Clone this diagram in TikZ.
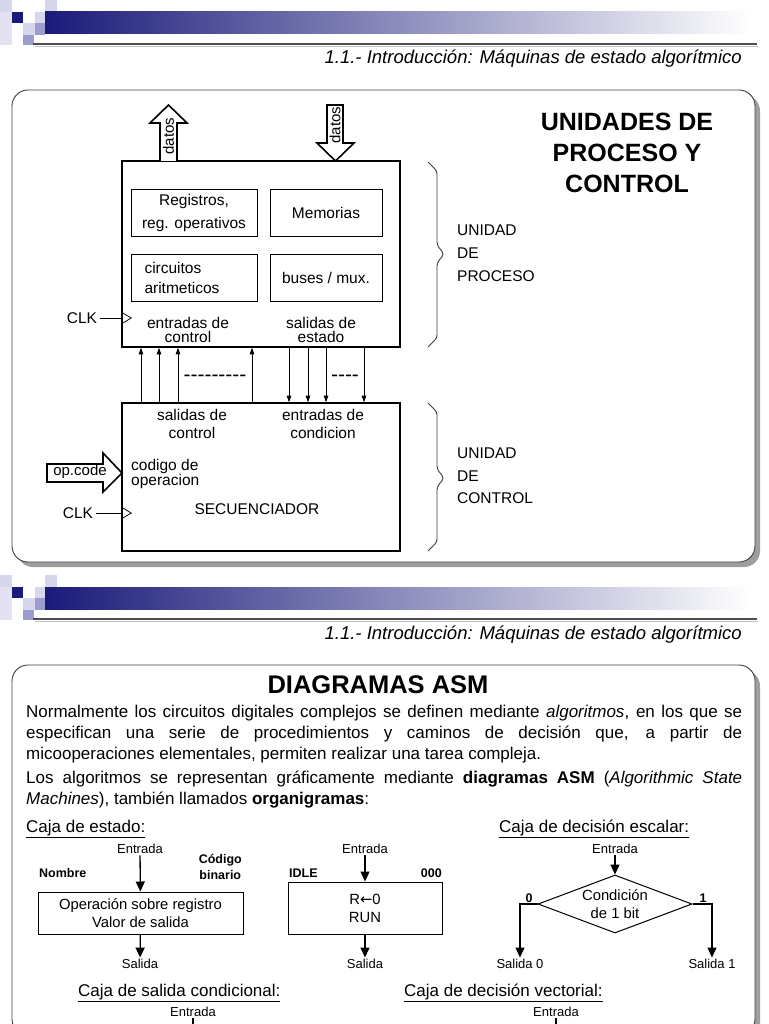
\documentclass[tikz,border=0pt]{standalone}
\usepackage{fontspec}
\setmainfont{Liberation Sans}
\newfontfamily\arrowfont{DejaVu Sans}
\usetikzlibrary{arrows.meta,shapes.geometric}

\newcommand\fsz[2]{\fontsize{#1}{#2}\selectfont}
\newcommand\dashrow[1]{\foreach \i in {1,...,#1}{-\kern0pt}}

\definecolor{navy}{RGB}{26,26,122}
\definecolor{lavlight}{RGB}{214,214,236}
\definecolor{lavmid}{RGB}{156,156,206}
\definecolor{framegray}{RGB}{64,64,64}
\definecolor{shadegray}{RGB}{158,158,158}

\tikzset{
  unit/.style={draw, line width=1.6pt, inner sep=0pt},
  blk/.style={draw, line width=0.9pt, inner sep=0pt, align=center, font=\fsz{15.5}{23}},
  lbl/.style={inner sep=0pt, align=center, font=\fsz{15.5}{18}},
  sig/.style={line width=0.8pt, -{Triangle[length=6.5pt,width=4.5pt]}},
  hollow/.style={draw, line width=1.6pt, fill=white, line join=miter},
  brace/.style={draw, line width=0.9pt, black!75, rounded corners=3pt},
  asm/.style={draw, line width=1pt, inner sep=0pt, align=center, font=\fsz{14.8}{18}},
  small/.style={inner sep=1.5pt, font=\fsz{13}{15}},
  tag/.style={inner sep=0pt, font=\bfseries\fsz{12.5}{16}},
  flow/.style={line width=1.3pt, -{Triangle[length=10pt,width=9pt]}},
  caja/.style={inner sep=0pt, anchor=base west, font=\fsz{17}{20}},
  body/.style={inner sep=0pt, anchor=base west, font=\fsz{17}{21}},
}

\begin{document}
\begin{tikzpicture}[x=1pt,y=-1pt]
    \useasboundingbox (0,0) rectangle (768,1024);
    \clip (0,0) rectangle (768,1024);

    % Slide headers (same on both slides)
    \foreach \oy in {0,575}{
      \begin{scope}[shift={(0,\oy)}]
        \fill[lavlight] (0,0) rectangle (12,12);
        \fill[lavlight!70] (0,12) rectangle (12,45);
        \fill[navy] (12,12) rectangle (23,23);
        \fill[lavlight] (45,0) rectangle (57,12);
        \fill[lavlight] (35,12) rectangle (45,23);
        \fill[lavlight] (23,23) rectangle (35,35);
        \fill[lavmid] (35,23) rectangle (45,35);
        \fill[lavmid] (23,35) rectangle (34,45);
        \shade[left color=navy, right color=white] (45,12) rectangle (752,34);
        \draw[black!25, line width=1.5pt] (35,46.5) -- (758,46.5);
        \draw[black!70, line width=1.2pt] (33,44) -- (757,44);
        \node[anchor=base east, inner sep=0pt, font=\itshape\fsz{18.5}{20}] (hdr\oy) at (742,64)
            {1.1.- Introducción: Máquinas de estado algorítmico};
      \end{scope}
    }

    % ---------------- Slide 1 ----------------
    \fill[shadegray, rounded corners=16pt] (17,95) rectangle (760,567);
    \draw[framegray, fill=white, line width=0.9pt, rounded corners=16pt] (12,90) rectangle (755,562);

    \node[align=center, inner sep=0pt, font=\bfseries\fsz{25}{31}] (title1) at (627,153)
        {UNIDADES DE\\PROCESO Y\\CONTROL};

    % Units
    \node[unit, minimum width=278pt, minimum height=186pt] (proc) at (261,254) {};
    \node[unit, minimum width=278pt, minimum height=148pt] (ctl) at (261,477) {};

    % Blocks of the processing unit
    \node[blk, minimum width=126pt, minimum height=47pt] (regs) at (194,212.5) {Registros,\\reg. operativos};
    \node[blk, minimum width=112pt, minimum height=47pt] (mem) at (326,212.5) {Memorias};
    \node[blk, minimum width=126pt, minimum height=47pt, text width=100pt, align=left,
          font=\fsz{15.5}{20}] (arit) at (194.5,277.5) {circuitos\\aritmeticos};
    \node[blk, minimum width=112pt, minimum height=47pt] (bus) at (326,277.5) {buses / mux.};

    \node[lbl, font=\fsz{15.5}{14}] (ectl) at (188,330) {entradas de\\control};
    \node[lbl, font=\fsz{15.5}{14}] (sest) at (321,330) {salidas de\\estado};

    % Control unit texts
    \node[lbl] (sctl) at (192,424) {salidas de\\control};
    \node[lbl] (econd) at (323,424) {entradas de\\condicion};
    \node[lbl, anchor=west, align=left, font=\fsz{15.5}{15}] (opc) at (131,473.5) {codigo de\\operacion};
    \node[lbl] (seq) at (257,509) {SECUENCIADOR};

    % Data buses
    \draw[hollow] (160,161) -- (160,123) -- (150,123) -- (168.5,105) -- (187,123) -- (177,123) -- (177,161);
    \node[lbl, rotate=90, font=\fsz{15}{18}] (din) at (168.5,136) {datos};
    \draw[hollow] (327,105) -- (327,143) -- (317,143) -- (335.5,161) -- (354,143) -- (343,143) -- (343,105) -- cycle;
    \node[lbl, rotate=90, font=\fsz{15}{18}] (dout) at (335,125) {datos};

    % op.code bus
    \draw[hollow] (47,464) -- (103,464) -- (103,453) -- (122,473) -- (103,492) -- (103,482) -- (47,482) -- cycle;
    \node[lbl, font=\fsz{15}{18}] (opcode) at (80,472) {op.code};

    % Clocks
    \node[lbl, inner sep=3pt] (clkp) at (82,318) {CLK};
    \draw[line width=0.8pt] (clkp.east) -- (clkp.east -| proc.west);
    \draw[line width=0.8pt] (clkp -| proc.west) ++(0,-6) -- ++(10,6) -- ++(-10,6);
    \node[lbl, inner sep=3pt] (clkc) at (78,513) {CLK};
    \draw[line width=0.8pt] (clkc.east) -- (clkc.east -| ctl.west);
    \draw[line width=0.8pt] (clkc -| ctl.west) ++(0,-6) -- ++(10,6) -- ++(-10,6);

    % Control and condition signals
    \foreach \x in {141,159,178,252}
        \draw[sig] (ctl.north -| \x,0) -- (proc.south -| \x,0);
    \foreach \x in {289,308,326,364}
        \draw[sig] (proc.south -| \x,0) -- (ctl.north -| \x,0);
    \node[anchor=base, inner sep=0pt, font=\fsz{21}{21}] (dots1) at (215,381) {\dashrow{9}};
    \node[anchor=base, inner sep=0pt, font=\fsz{21}{21}] (dots2) at (345,381) {\dashrow{4}};

    % Braces
    \draw[brace] (428,162) -- (437,171) -- (437,245) -- (444,254) -- (437,263) -- (437,338) -- (428,347);
    \draw[brace] (428,403) -- (437,412) -- (437,469) -- (444,478) -- (437,487) -- (437,542) -- (428,551);
    \node[lbl, anchor=west, align=left, font=\fsz{15.5}{23}] (uproc) at (457,253) {UNIDAD\\DE\\PROCESO};
    \node[lbl, anchor=west, align=left, font=\fsz{15.5}{22.5}] (uctl) at (457,476) {UNIDAD\\DE\\CONTROL};

    % ---------------- Slide 2 ----------------
    \fill[shadegray, rounded corners=16pt] (17,670) rectangle (760,1040);
    \draw[framegray, fill=white, line width=0.9pt, rounded corners=16pt] (12,665) rectangle (755,1035);

    \node[inner sep=0pt, font=\bfseries\fsz{25.5}{30}] (title2) at (378,685) {DIAGRAMAS ASM};

    \node[body] (p1a) at (26,717) {\makebox[716pt][s]{Normalmente los circuitos digitales complejos se definen mediante \textit{algoritmos}, en los que se}};
    \node[body] (p1b) at (26,738) {\makebox[716pt][s]{especifican una serie de procedimientos y caminos de decisión que, a partir de}};
    \node[body] (p1c) at (26,759) {micooperaciones elementales, permiten realizar una tarea compleja.};
    \node[body] (p2a) at (26,783) {\makebox[716pt][s]{Los algoritmos se representan gráficamente mediante \textbf{diagramas ASM} (\textit{Algorithmic State}}};
    \node[body] (p2b) at (26,804) {\textit{Machines}), también llamados \textbf{organigramas}:};

    % Caja de estado
    \node[caja] (hest) at (26,832) {\underline{Caja de estado:}};
    \node[small] (ent1) at (140,849) {Entrada};
    \node[asm, minimum width=205pt, minimum height=42pt] (st1) at (140.5,913) {Operación sobre registro\\Valor de salida};
    \node[small] (sal1) at (140,964) {Salida};
    \node[tag, anchor=base west] (nom) at (39,877) {Nombre};
    \node[tag, anchor=east, align=center] (cod) at (242,866.5) {Código\\binario};
    \draw[flow] (ent1) -- (st1);
    \draw[flow] (st1) -- (sal1);

    % Ejemplo de estado
    \node[small] (ent2) at (365,849) {Entrada};
    \node[asm, minimum width=154pt, minimum height=52pt] (st2) at (365,908) {R{\arrowfont ←}0\\RUN};
    \node[small] (sal2) at (365,964) {Salida};
    \node[tag, anchor=base west] (idle) at (289,877) {IDLE};
    \node[tag, anchor=base east] (bin) at (442,877) {000};
    \draw[flow] (ent2) -- (st2);
    \draw[flow] (st2) -- (sal2);

    % Caja de decision escalar
    \node[caja] (hdec) at (499,832) {\underline{Caja de decisión escalar:}};
    \node[small] (ent3) at (615,849) {Entrada};
    \node[asm, diamond, aspect=2.65, minimum width=154pt, minimum height=58pt] (dec) at (615,904) {Condición\\de 1 bit};
    \node[small] (s0) at (520,964) {Salida 0};
    \node[small] (s1) at (712,964) {Salida 1};
    \node[tag] (b0) at (529,898) {0};
    \node[tag] (b1) at (703,898) {1};
    \draw[flow] (ent3) -- (dec);
    \draw[flow] (dec.west) -| (s0);
    \draw[flow] (dec.east) -| (s1);

    % Cajas de la parte inferior
    \node[caja] (hcond) at (78,996) {\underline{Caja de salida condicional:}};
    \node[small] (ent4) at (193,1012) {Entrada};
    \coordinate (cut4) at (193,1030);
    \draw[line width=1.3pt] (ent4) -- (cut4);
    \node[caja] (hvec) at (404,996) {\underline{Caja de decisión vectorial:}};
    \node[small] (ent5) at (556,1012) {Entrada};
    \coordinate (cut5) at (556,1030);
    \draw[line width=1.3pt] (ent5) -- (cut5);

\end{tikzpicture}
\end{document}
